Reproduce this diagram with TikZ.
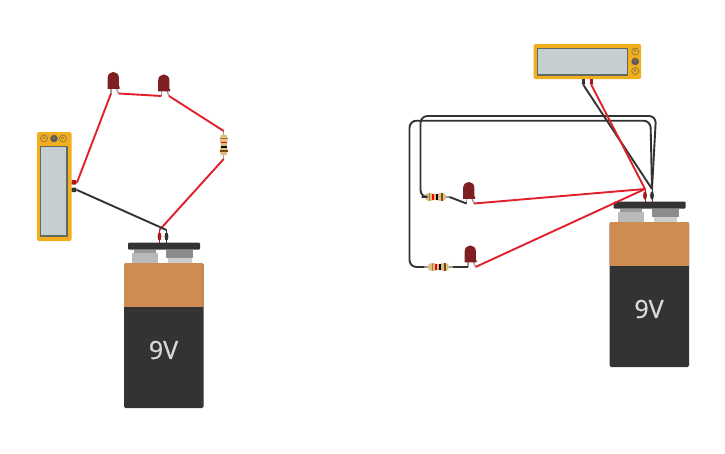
\documentclass[tikz,border=0pt]{standalone}
\usepackage{fontspec}
\setsansfont{Open Sans}
\newfontfamily\ninefont[FakeBold=0.8]{Open Sans}
\definecolor{wirered}{HTML}{E0202A}
\definecolor{wiredark}{HTML}{333333}
\definecolor{ledred}{HTML}{7F1F22}
\definecolor{leadgray}{HTML}{9A9A9A}
\definecolor{metercase}{HTML}{F2AE1C}
\definecolor{screen}{HTML}{C5CED0}
\definecolor{screenrim}{HTML}{5F6A60}
\definecolor{batorange}{HTML}{CF8C52}
\definecolor{batdark}{HTML}{333333}
\definecolor{restan}{HTML}{DDBD80}
\definecolor{resbrown}{HTML}{7A4A1C}
\tikzset{
  x=1pt,y=-1pt,
  redwire/.style={draw=wirered,line width=1.9pt},
  darkwire/.style={draw=wiredark,line width=1.9pt},
  loopwire/.style={darkwire,rounded corners=7pt},
  lead/.style={draw=leadgray,line width=1.3pt},
  pics/ledpart/.style={code={
    \draw[lead] (-2.5,6) -- (-2.5,11);
    \draw[lead] (3,6) -- (5,11);
    \fill[ledred] (-5.8,6.4) -- (-5.8,-4.8) arc[start angle=180,end angle=360,x radius=5.6,y radius=5.8] -- (5.4,3.8) -- (6.1,3.8) -- (6.1,6.4) -- cycle;
    \coordinate (-a) at (-2.5,11);
    \coordinate (-c) at (5,11);
  }},
  pics/respart/.style={code={
    \draw[lead] (-14,0) -- (14,0);
    \fill[restan,rounded corners=2pt] (-10.5,-2) -- (-9,-3.9) -- (-5,-3.9) -- (-4,-3.1) -- (4,-3.1) -- (5,-3.9) -- (9,-3.9) -- (10.5,-2) -- (10.5,2) -- (9,3.9) -- (5,3.9) -- (4,3.1) -- (-4,3.1) -- (-5,3.9) -- (-9,3.9) -- (-10.5,2) -- cycle;
    \fill[resbrown!60!restan] (-6.8,-3.9) rectangle (-6,3.9);
    \fill[red] (-3.4,-3.1) rectangle (-1.6,3.1);
    \fill[black] (0.7,-3.1) rectangle (2.5,3.1);
    \fill[resbrown] (5,-3.9) rectangle (7,3.9);
    \coordinate (-a) at (-14,0);
    \coordinate (-b) at (14,0);
  }},
  pics/batterypart/.style={code={
    \fill[batdark,rounded corners=1pt] (4,-20.5) rectangle (76,-13.5);
    \fill[gray!80] (10,-13.5) rectangle (32,-10);
    \fill[gray!55] (8,-10) rectangle (34,0.5);
    \fill[gray!90] (42,-13.5) rectangle (69,-5);
    \fill[gray!40] (44,-5) rectangle (67.5,0.5);
    \fill[batdark,rounded corners=1.5pt] (0,0) rectangle (79.5,145);
    \begin{scope}
      \clip (-1,-1) rectangle (81,43);
      \fill[batorange,rounded corners=1.5pt] (0,0) rectangle (79.5,145);
    \end{scope}
    \coordinate (-p) at (35.5,-33);
    \coordinate (-n) at (42.5,-33);
    \fill[wirered!75!black] (35.5,-26.5) ellipse[x radius=1.9,y radius=4.2];
    \draw[wirered!75!black,line width=.9pt] (35.5,-26) -- (35.5,-20);
    \fill[batdark] (42.5,-26.5) ellipse[x radius=1.9,y radius=4.2];
    \draw[batdark,line width=.9pt] (42.5,-26) -- (42.5,-20);
    \draw[wirered!75!black,line width=1pt] (35.5,-33) -- (35.5,-28);
    \draw[batdark,line width=1pt] (42.5,-33) -- (42.5,-28);
    \node[font=\ninefont\fontsize{25}{25}\selectfont,text=white!85!black,inner sep=0pt] (-label) at (39.5,87) {9V};
  }},
  knob/.style={draw=black!60,fill=metercase,line width=.5pt,circle,inner sep=0pt,minimum size=7pt,font=\sffamily\fontsize{4}{4}\selectfont,text=black!70},
  knobdark/.style={knob,fill=black!65,text=metercase},
  pics/meterh/.style={code={
    \fill[metercase,rounded corners=2pt] (0,0) rectangle (107.5,35);
    \fill[screen,draw=screenrim,line width=1.2pt] (3.5,4.5) rectangle (93.5,31);
    \node[knob] (-ka) at (101.5,7.5) {A};
    \node[knobdark] (-kv) at (101.5,17.5) {V};
    \node[knob] (-kr) at (101.5,27) {R};
    \fill[batdark] (48,35) rectangle (51.5,39.5);
    \fill[batdark] (49.7,39.5) circle (1.9);
    \fill[wirered!75!black] (56,35) rectangle (59.5,39.5);
    \fill[wirered!75!black] (57.7,39.5) circle (1.9);
    \coordinate (-n) at (49.7,41);
    \coordinate (-p) at (57.7,41);
  }},
  pics/meterv/.style={code={
    \fill[metercase,rounded corners=2pt] (0,0) rectangle (34.5,109);
    \fill[screen,draw=screenrim,line width=1.2pt] (3.8,14.5) rectangle (30,104);
    \node[knob,rotate=90] (-ka) at (7,6.5) {A};
    \node[knobdark,rotate=90] (-kv) at (17,6.5) {V};
    \node[knob,rotate=90] (-kr) at (26,6.5) {R};
    \fill[wirered!75!black,rounded corners=1pt] (34.5,48) rectangle (39.5,52.5);
    \fill[batdark,rounded corners=1pt] (34.5,55.5) rectangle (39.5,60);
    \coordinate (-p) at (40,50.5);
    \coordinate (-n) at (40,58);
  }},
}
\begin{document}
\begin{tikzpicture}
\useasboundingbox (0,0) rectangle (725,453);
% left circuit
\pic (batL) at (124,263) {batterypart};
\pic (metL) at (37,132) {meterv};
\pic (ledA) at (113.5,82.5) {ledpart};
\pic (ledB) at (164,85) {ledpart};
\pic[rotate=-90] (resL) at (223.7,145) {respart};
\draw[redwire] (metL-p) -- (ledA-a);
\draw[redwire] (ledA-c) -- (ledB-a);
\draw[redwire] (ledB-c) -- (resL-a);
\draw[redwire] (resL-b) -- (batL-p);
\draw[darkwire] (metL-n) -- (batL-n);
% right circuit
\pic (batR) at (609.5,222) {batterypart};
\pic (metR) at (533.7,44) {meterh};
\pic (ledC) at (469,192.5) {ledpart};
\pic (ledD) at (470.5,256) {ledpart};
\pic (resC) at (435.5,197) {respart};
\pic (resD) at (438.5,267) {respart};
\draw[loopwire] (batR-n) -- (656,116) -- (420.5,116) -- (420.5,197) -- (resC-a);
\draw[loopwire] (batR-n) -- (650.5,120.7) -- (409.5,120.7) -- (409.5,267) -- (resD-a);
\draw[darkwire] (resC-b) -- (ledC-a);
\draw[darkwire] (resD-b) -- (ledD-a);
\draw[darkwire] (metR-n) -- (batR-n);
\draw[redwire] (metR-p) -- (batR-p);
\draw[redwire] (ledC-c) -- (batR-p);
\draw[redwire] (ledD-c) -- (batR-p);
\end{tikzpicture}
\end{document}
